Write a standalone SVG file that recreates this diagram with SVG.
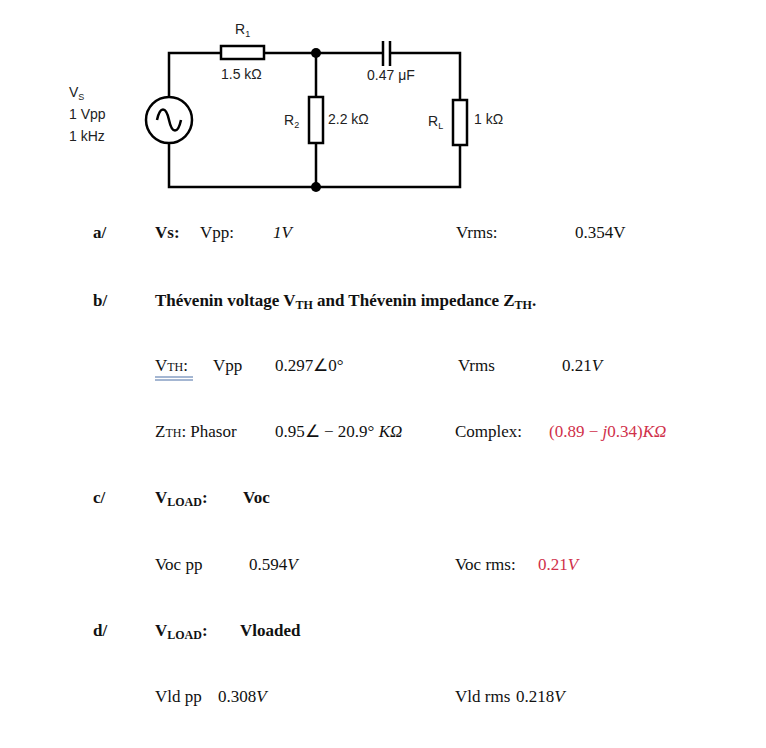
<svg xmlns="http://www.w3.org/2000/svg" width="766" height="748" viewBox="0 0 766 748">
<style>
.w{stroke:#000;stroke-width:2.5;fill:none}
.c{font-family:"Liberation Sans",Arial,sans-serif;font-size:14px;fill:#222}
.t{font-family:"Liberation Serif","Times New Roman",serif;font-size:17px;fill:#111}
.b{font-weight:bold}
.m{font-family:"Liberation Serif",serif;font-size:17px;fill:#111}
.r{fill:#d0304a}
</style>
<rect width="766" height="748" fill="#fff"/>
<g id="connectors">
<path class="w" d="M220 53H169V97M169 143V187H460V145M460 100V53H390M382 53H264M316 53V97M316 143V187"/>
</g>
<g id="source"><circle class="w" cx="169" cy="120" r="23"/><path class="w" d="M157 120c3-14 9-14 12 0s9 14 12 0"/></g>
<g id="R1"><rect class="w" x="221" y="46" width="43" height="13" fill="#fff"/></g>
<g id="R2"><rect class="w" x="309" y="97" width="14" height="46" fill="#fff"/></g>
<g id="RL"><rect class="w" x="453" y="100" width="14" height="45" fill="#fff"/></g>
<g id="C"><path class="w" d="M383 41V66M390 41V66"/></g>
<circle cx="316" cy="53" r="5"/><circle cx="316" cy="187" r="5"/>
<text class="c" x="235" y="34">R<tspan font-size="9" dy="3">1</tspan></text>
<text class="c" x="221" y="79">1.5 kΩ</text>
<text class="c" x="367" y="80">0.47 μF</text>
<text class="c" x="284" y="125">R<tspan font-size="9" dy="3">2</tspan></text>
<text class="c" x="328" y="124">2.2 kΩ</text>
<text class="c" x="428" y="126">R<tspan font-size="9" dy="3">L</tspan></text>
<text class="c" x="474" y="124">1 kΩ</text>
<text class="c" x="69" y="97">V<tspan font-size="9" dy="3">S</tspan></text>
<text class="c" x="69" y="119">1 Vpp</text>
<text class="c" x="69" y="141">1 kHz</text>

<text class="t b" x="93" y="238">a/</text>
<text class="t b" x="155" y="238">Vs:</text>
<text class="t" x="200" y="238">Vpp:</text>
<text class="m" x="273" y="238" font-style="italic">1V</text>
<text class="t" x="456" y="238">Vrms:</text>
<text class="m" x="575" y="238">0.354V</text>

<text class="t b" x="93" y="306">b/</text>
<text class="t b" x="155" y="306">Thévenin voltage V<tspan font-size="12" dy="3">TH</tspan><tspan dy="-3"> and Thévenin impedance Z</tspan><tspan font-size="12" dy="3">TH</tspan><tspan dy="-3">.</tspan></text>

<text class="t" x="155" y="371">V<tspan font-size="12">TH</tspan>:</text>
<path d="M155 377H193M155 380H193" stroke="#4a6fa5" stroke-width="1"/>
<text class="t" x="213" y="371">Vpp</text>
<text class="m" x="275" y="371">0.297∠0°</text>
<text class="t" x="458" y="371">Vrms</text>
<text class="m" x="562" y="371" >0.21<tspan font-style="italic">V</tspan></text>

<text class="t" x="155" y="437">Z<tspan font-size="12">TH</tspan>:  Phasor</text>
<text class="m" x="275" y="437">0.95∠ − 20.9° <tspan font-style="italic">KΩ</tspan></text>
<text class="t" x="455" y="437">Complex:</text>
<text class="m r" x="549" y="437">(0.89 − <tspan font-style="italic">j</tspan>0.34)<tspan font-style="italic">KΩ</tspan></text>

<text class="t b" x="93" y="503">c/</text>
<text class="t b" x="155" y="503">V<tspan font-size="12" dy="3">LOAD</tspan><tspan dy="-3">:</tspan></text>
<text class="t b" x="243" y="503">Voc</text>
<text class="t" x="155" y="570">Voc pp</text>
<text class="m" x="249" y="570">0.594<tspan font-style="italic">V</tspan></text>
<text class="t" x="455" y="570">Voc rms:</text>
<text class="m r" x="538" y="570">0.21<tspan font-style="italic">V</tspan></text>

<text class="t b" x="93" y="636">d/</text>
<text class="t b" x="155" y="636">V<tspan font-size="12" dy="3">LOAD</tspan><tspan dy="-3">:</tspan></text>
<text class="t b" x="240" y="636">Vloaded</text>
<text class="t" x="155" y="702">Vld pp</text>
<text class="m" x="218" y="702">0.308<tspan font-style="italic">V</tspan></text>
<text class="t" x="455" y="702">Vld rms</text>
<text class="m" x="516" y="702">0.218<tspan font-style="italic">V</tspan></text>
</svg>
